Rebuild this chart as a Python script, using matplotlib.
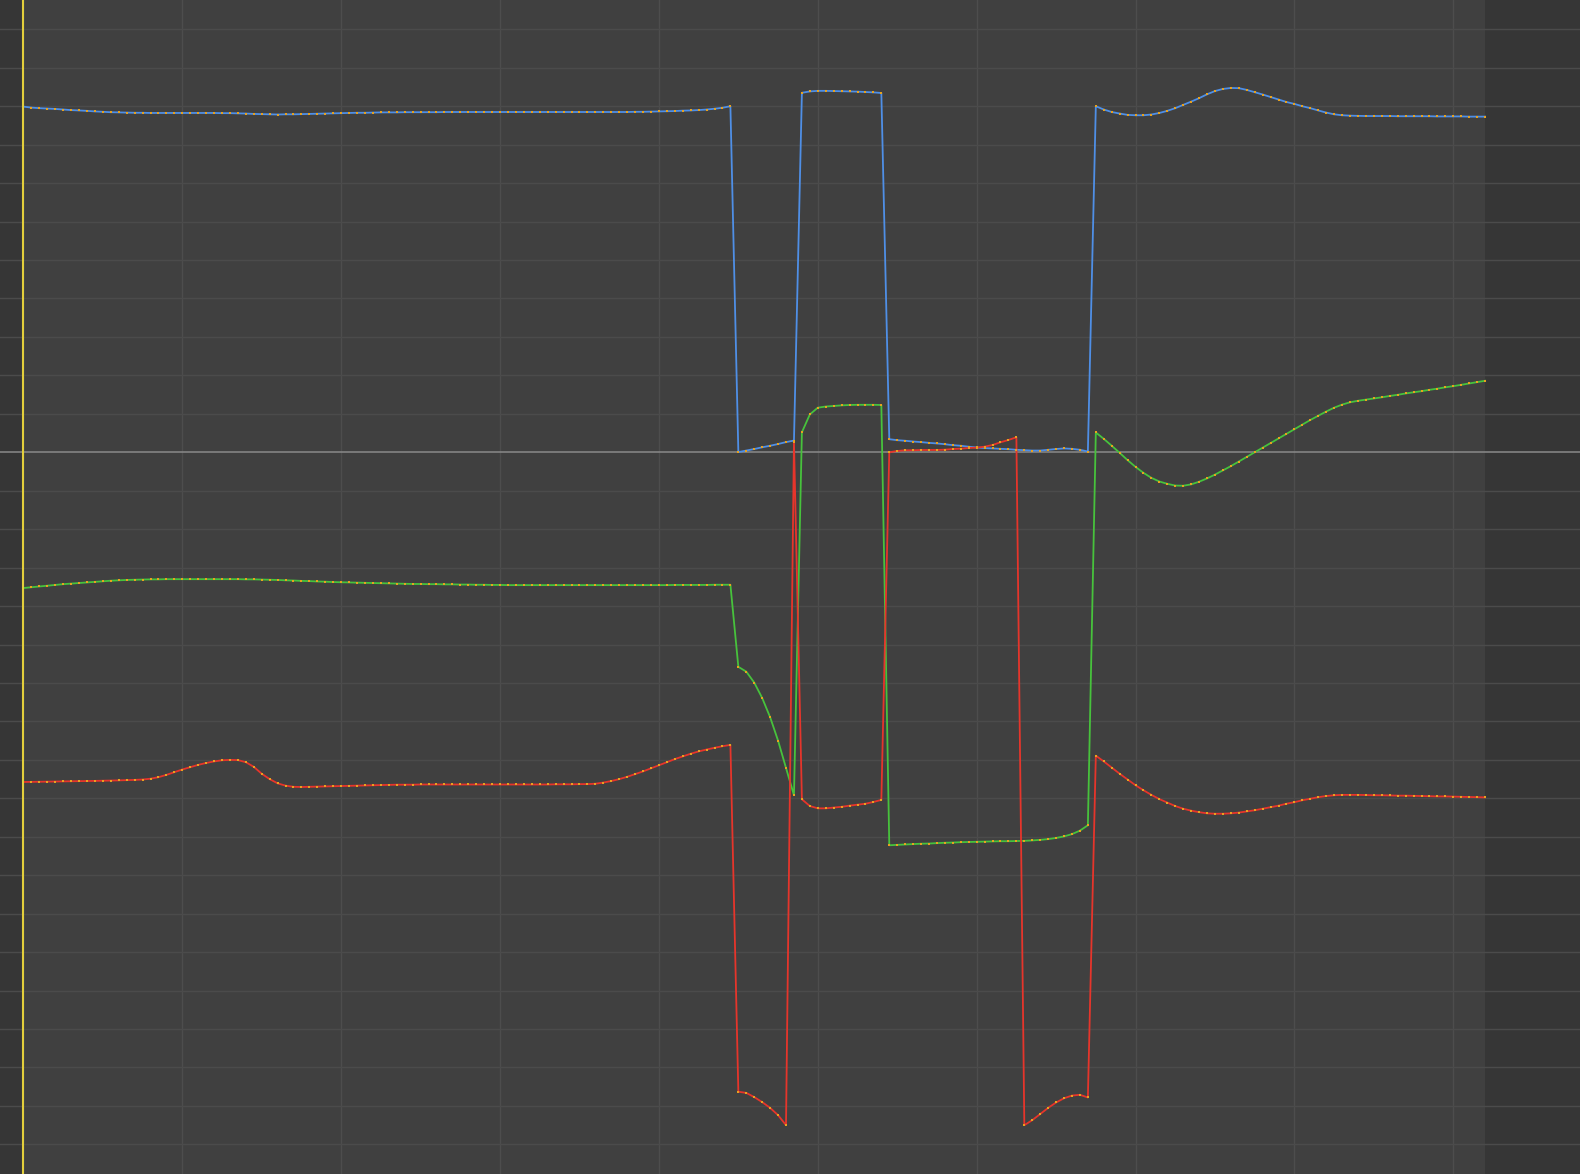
import numpy as np
import matplotlib
matplotlib.use("Agg")
import matplotlib.pyplot as plt

# one keyframe per frame, frames 0..184 (scene range), split at the jumps
frames = np.arange(0, 185)

blue_a = [89.9, 89.65, 89.5, 89.4, 89.3, 89.15, 89.0, 88.9, 88.8, 88.65,
          88.55, 88.45, 88.4, 88.35, 88.3, 88.3, 88.25, 88.25, 88.25, 88.25,
          88.25, 88.25, 88.25, 88.25, 88.25, 88.2, 88.2, 88.15, 88.1, 88.0,
          87.95, 87.9, 87.85, 87.9, 87.9, 87.95, 88.0, 88.05, 88.1, 88.15,
          88.2, 88.25, 88.3, 88.3, 88.35, 88.4, 88.4, 88.4, 88.45, 88.45,
          88.45, 88.45, 88.45, 88.5, 88.5, 88.5, 88.5, 88.5, 88.5, 88.5,
          88.5, 88.5, 88.5, 88.5, 88.5, 88.5, 88.5, 88.5, 88.5, 88.5,
          88.5, 88.5, 88.5, 88.5, 88.5, 88.5, 88.5, 88.55, 88.55, 88.6,
          88.65, 88.7, 88.75, 88.85, 88.9, 89.0, 89.15, 89.35, 89.6, 90.0]
blue_b = [0.05, 0.45, 0.85, 1.3, 1.7, 2.15, 2.65, 3.05]
blue_c = [93.5, 93.85, 94.0, 94.0, 93.95, 93.9, 93.85, 93.8, 93.7, 93.6, 93.45]
blue_d = [3.4, 3.15, 3.0, 2.8, 2.65, 2.45, 2.3, 2.1, 1.85, 1.7, 1.45, 1.25, 1.1,
          1.0, 0.9, 0.8, 0.65, 0.55, 0.45, 0.45, 0.65, 0.85, 1.0, 0.9, 0.65, 0.2]
blue_e = [90.0, 89.15, 88.5, 88.1, 87.75, 87.65, 87.65, 87.85, 88.25, 88.8,
          89.5, 90.35, 91.2, 92.1, 93.1, 93.95, 94.5, 94.75, 94.7, 94.25,
          93.65, 93.05, 92.4, 91.75, 91.1, 90.6, 90.0, 89.5, 88.9, 88.35,
          87.9, 87.65, 87.55, 87.5, 87.45, 87.45, 87.45, 87.45, 87.4, 87.4,
          87.4, 87.4, 87.4, 87.35, 87.35, 87.35, 87.35, 87.3, 87.3, 87.3]

green_a = [-35.3, -35.1, -34.9, -34.7, -34.5, -34.3, -34.15, -34.0, -33.85, -33.7,
           -33.55, -33.4, -33.3, -33.2, -33.15, -33.1, -33.05, -33.05, -33.0, -33.0,
           -33.0, -33.0, -33.0, -33.0, -33.0, -33.0, -33.0, -33.0, -33.05, -33.05,
           -33.1, -33.15, -33.2, -33.3, -33.35, -33.45, -33.5, -33.6, -33.65, -33.75,
           -33.8, -33.85, -33.9, -33.95, -34.0, -34.05, -34.1, -34.15, -34.2, -34.25,
           -34.25, -34.3, -34.3, -34.35, -34.35, -34.4, -34.4, -34.45, -34.45, -34.5,
           -34.5, -34.55, -34.55, -34.55, -34.55, -34.55, -34.55, -34.55, -34.55, -34.55,
           -34.55, -34.55, -34.55, -34.55, -34.55, -34.55, -34.55, -34.55, -34.55, -34.55,
           -34.55, -34.55, -34.5, -34.5, -34.5, -34.5, -34.5, -34.45, -34.45, -34.45]
green_b = [-55.8, -57.05, -59.9, -63.9, -68.9, -75.0, -82.1, -89.2]
green_c = [5.2, 9.85, 11.6, 11.9, 12.05, 12.2, 12.3, 12.35, 12.35, 12.35, 12.3]
green_d = [-102.2, -102.1, -102.0, -101.9, -101.8, -101.75, -101.65, -101.55, -101.5,
           -101.4, -101.35, -101.3, -101.25, -101.2, -101.15, -101.15, -101.1, -101.05,
           -100.95, -100.8, -100.6, -100.3, -99.9, -99.3, -98.4, -97.0]
green_e = [5.15, 3.5, 1.7, -0.15, -2.05, -3.8, -5.35, -6.65, -7.6, -8.2,
           -8.65, -8.7, -8.35, -7.65, -6.8, -5.8, -4.7, -3.6, -2.4, -1.2,
           0.0, 1.2, 2.4, 3.6, 4.8, 6.0, 7.2, 8.4, 9.5, 10.6,
           11.6, 12.4, 13.0, 13.4, 13.7, 14.0, 14.3, 14.65, 14.95, 15.3,
           15.6, 15.9, 16.25, 16.55, 16.9, 17.2, 17.55, 17.9, 18.25, 18.6]

red_a = [-85.75, -85.72, -85.7, -85.67, -85.64, -85.6, -85.57, -85.54, -85.5, -85.46,
         -85.42, -85.38, -85.33, -85.27, -85.2, -85.1, -84.9, -84.5, -83.9, -83.2,
         -82.5, -81.9, -81.3, -80.8, -80.4, -80.1, -80.0, -80.05, -80.6, -81.8,
         -83.6, -85.0, -86.1, -86.7, -87.0, -87.05, -87.0, -86.95, -86.9, -86.85,
         -86.8, -86.75, -86.7, -86.65, -86.6, -86.55, -86.5, -86.45, -86.45, -86.45,
         -86.4, -86.4, -86.4, -86.4, -86.4, -86.4, -86.4, -86.4, -86.4, -86.4,
         -86.4, -86.4, -86.4, -86.4, -86.4, -86.4, -86.4, -86.35, -86.35, -86.35,
         -86.3, -86.3, -86.2, -85.9, -85.5, -85.0, -84.4, -83.7, -83.0, -82.2,
         -81.4, -80.6, -79.8, -79.1, -78.4, -77.8, -77.3, -76.85, -76.45, -76.1]
red_b = [-166.3, -166.6, -167.7, -169.0, -170.5, -172.4, -175.0, 2.76]
red_c = [-90.25, -92.0, -92.6, -92.6, -92.4, -92.2, -91.9, -91.65, -91.4, -90.95, -90.4]
red_d = [0.0, 0.34, 0.52, 0.52, 0.6, 0.6, 0.6, 0.68, 0.86, 0.94, 1.12, 1.2, 1.46,
         1.9, 2.6, 3.2, 3.9,
         -175.0, -173.7, -172.1, -170.5, -169.1, -168.0, -167.3, -167.1, -167.8]
red_e = [-78.9, -80.4, -82.0, -83.6, -85.1, -86.6, -87.9, -89.1, -90.2, -91.1,
         -92.0, -92.7, -93.2, -93.6, -93.9, -94.0, -94.0, -93.9, -93.7, -93.4,
         -93.1, -92.7, -92.3, -91.9, -91.4, -91.0, -90.5, -90.1, -89.7, -89.4,
         -89.2, -89.1, -89.1, -89.1, -89.15, -89.2, -89.2, -89.25, -89.3, -89.3,
         -89.35, -89.4, -89.45, -89.5, -89.5, -89.55, -89.6, -89.65, -89.7, -89.75]

blue = blue_a + blue_b + blue_c + blue_d + blue_e
green = green_a + green_b + green_c + green_d + green_e
red = red_a + red_b + red_c + red_d + red_e

scene_start, scene_end = 0, 184
current_frame = 0

fig = plt.figure(figsize=(15.8, 11.74), dpi=100)
ax = fig.add_axes([0, 0, 1, 1])
ax.set_facecolor('#404040')

xmin, xmax = -2.946, 195.95
ymin, ymax = -187.7, 117.63

# darkened area outside scene range
ax.axvspan(xmin, scene_start, color='#363636', lw=0, zorder=0)
ax.axvspan(scene_end, xmax, color='#363636', lw=0, zorder=0)

for f in range(0, 200, 20):
    ax.axvline(f, color='#4d4d4d', lw=1.0, zorder=1)
for v in range(-180, 120, 10):
    if v != 0:
        ax.axhline(v, color='#4b4b4b', lw=1.0, zorder=1)
ax.axhline(0, color='#8a8a8a', lw=1.1, zorder=1)

for vals, col in [(blue, '#4f8fe6'), (green, '#47c23c'), (red, '#e6352b')]:
    ax.plot(frames, vals, color=col, lw=1.3, zorder=3, solid_joinstyle='round')
    ax.plot(frames, vals, ls='none', marker='s', ms=1.5, mew=0,
            color='#e8a21e', zorder=4)

ax.axvline(current_frame, color='#e3cf3c', lw=1.5, zorder=5)

ax.set_xlim(xmin, xmax)
ax.set_ylim(ymin, ymax)
ax.set_xticks([])
ax.set_yticks([])
for s in ax.spines.values():
    s.set_visible(False)

fig.savefig('out.png', dpi=100, facecolor='#404040')
